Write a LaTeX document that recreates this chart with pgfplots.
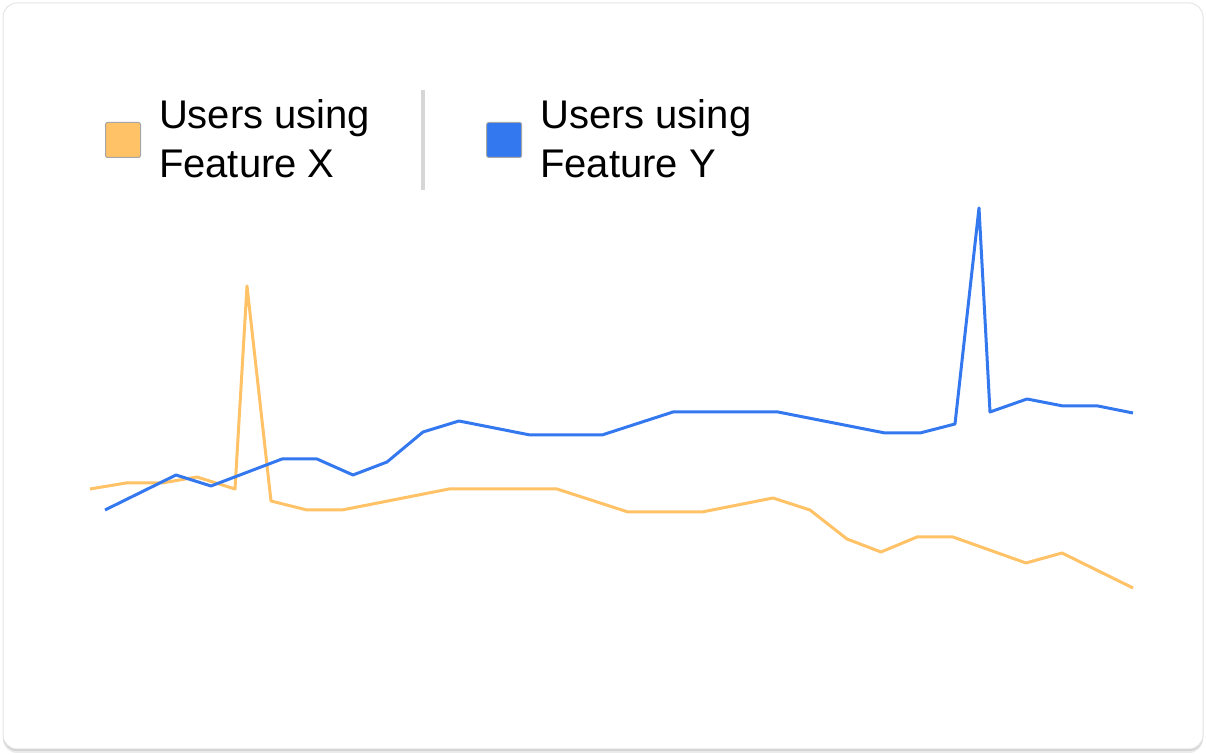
\documentclass[border=0pt]{standalone}
\usepackage{fontspec}
\setmainfont{Liberation Sans}
\usepackage{pgfplots}
\pgfplotsset{compat=1.18}

\definecolor{xorange}{HTML}{FFC266}
\definecolor{yblue}{HTML}{3478F0}
\definecolor{sepgray}{HTML}{D6D6D6}

% x: position along the time axis, y: users
\pgfplotstableread{
x     y
90    266
126   272
162   272
197   278
235   266
247   469
271   254
307   245
342   245
449   266
557   266
628   243
702   243
773   257
810   245
847   216
881   203
917   218
953   218
1026  192
1062  202
1133  167
}\featurex

\pgfplotstableread{
x     y
105   245
176   280
211   269
282   296
317   296
353   280
387   293
423   323
459   334
530   320
602   320
673   343
778   343
885   322
920   322
955   331
979   547
990   343
1027  356
1063  349
1098  349
1133  342
}\featurey

\begin{document}
\begin{tikzpicture}
\begin{axis}[
    width=603pt, height=377.5pt,
    scale only axis,
    xmin=0, xmax=1206, ymin=0, ymax=755,
    hide axis,
    clip=false,
    legend columns=2,
    legend cell align=left,
    legend style={
        at={(axis cs:105,615)}, anchor=west,
        draw=none, fill=none, inner sep=0pt, outer sep=0pt,
        nodes={inner sep=0pt, align=left, font=\fontsize{20pt}{24.5pt}\selectfont},
        /tikz/every odd column/.style={column sep=9pt},
        /tikz/every even column/.style={column sep=58pt},
    },
]
% card with a soft shadow
\path (axis cs:0,0) rectangle (axis cs:1206,755);
\fill[black!8, rounded corners=7pt] (axis cs:3,2) rectangle (axis cs:1203,751);
\fill[black!18, rounded corners=7pt] (axis cs:3,4) rectangle (axis cs:1203,751);
\draw[fill=white, draw=black!10, line width=0.5pt, rounded corners=7pt]
    (axis cs:3,6) rectangle (axis cs:1203,752);

\addplot[color=xorange, line width=1.5pt, line join=round,
    legend image code/.code={\draw[draw=black!35, line width=0.5pt, fill=xorange, rounded corners=1pt]
        (0pt,-8.75pt) rectangle (17.5pt,8.75pt);}]
    table[x=x, y=y] {\featurex};
\addlegendentry{Users using\\Feature X}

\addplot[color=yblue, line width=1.5pt, line join=round,
    legend image code/.code={\draw[draw=black!35, line width=0.5pt, fill=yblue, rounded corners=1pt]
        (0pt,-8.75pt) rectangle (17.5pt,8.75pt);}]
    table[x=x, y=y] {\featurey};
\addlegendentry{Users using\\Feature Y}

% separator between the legend entries
\draw[sepgray, line width=2pt] (axis cs:423,565) -- (axis cs:423,665);
\end{axis}
\end{tikzpicture}
\end{document}
